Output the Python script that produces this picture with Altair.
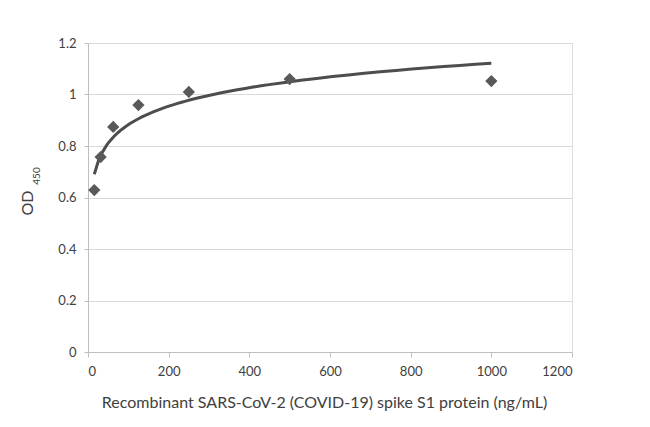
import altair as alt
import pandas as pd

conc = [15.6, 31.25, 62.5, 125, 250, 500, 1000]
od450 = [0.629, 0.757, 0.874, 0.959, 1.010, 1.060, 1.052]
x_ticks = [0, 200, 400, 600, 800, 1000, 1200]
y_ticks = [0, 0.2, 0.4, 0.6, 0.8, 1.0, 1.2]
y_title = ["OD"]
y_sub = ["450"]

df = pd.DataFrame({"conc": conc, "od": od450})

FONT = "Lato"
TXT = "#404040"

x_enc = alt.X(
    "conc:Q",
    scale=alt.Scale(domain=[0, 1200], nice=False),
    axis=alt.Axis(
        values=x_ticks, title="Recombinant SARS-CoV-2 (COVID-19) spike S1 protein (ng/mL)",
        format="d",
        grid=False, domainColor="#bfbfbf", tickColor="#bfbfbf", tickSize=5,
        labelPadding=8, titlePadding=16, labelFontSize=13, titleFontSize=16,
        labelFont=FONT, titleFont=FONT, labelColor=TXT, titleColor=TXT,
        titleFontWeight="normal", titleX=236,
    ),
)
y_enc = alt.Y(
    "od:Q",
    scale=alt.Scale(domain=[0, 1.2], nice=False),
    axis=alt.Axis(
        values=y_ticks, title=None, format="~g",
        grid=True, gridColor="#d9d9d9", domainColor="#bfbfbf", tickColor="#bfbfbf",
        tickSize=4, labelPadding=8, labelFontSize=13,
        labelFont=FONT, labelColor=TXT,
    ),
)

points = alt.Chart(df).mark_point(
    shape="diamond", filled=True, size=150, color="#595959", opacity=1
).encode(x=x_enc, y=y_enc)

trend = alt.Chart(df).transform_regression(
    "conc", "od", method="log"
).mark_line(color="#4d4d4d", strokeWidth=3).encode(x=x_enc, y=y_enc)

title_main = alt.Chart(pd.DataFrame({"t": y_title})).mark_text(
    angle=270, font=FONT, fontSize=16, color=TXT, align="center", baseline="middle"
).encode(text="t:N", x=alt.value(-60), y=alt.value(160))

title_sub = alt.Chart(pd.DataFrame({"t": y_sub})).mark_text(
    angle=270, font=FONT, fontSize=10, color=TXT, align="center", baseline="middle"
).encode(text="t:N", x=alt.value(-51), y=alt.value(133))

chart = alt.layer(trend, points, title_main, title_sub).properties(
    width=484, height=309,
    autosize=alt.AutoSizeParams(type="none"),
    padding={"left": 80, "top": 35, "right": 60, "bottom": 70},
).configure_view(stroke=None).configure(background="white")

chart.save("out.html", embed_options={"renderer": "svg", "actions": False})
